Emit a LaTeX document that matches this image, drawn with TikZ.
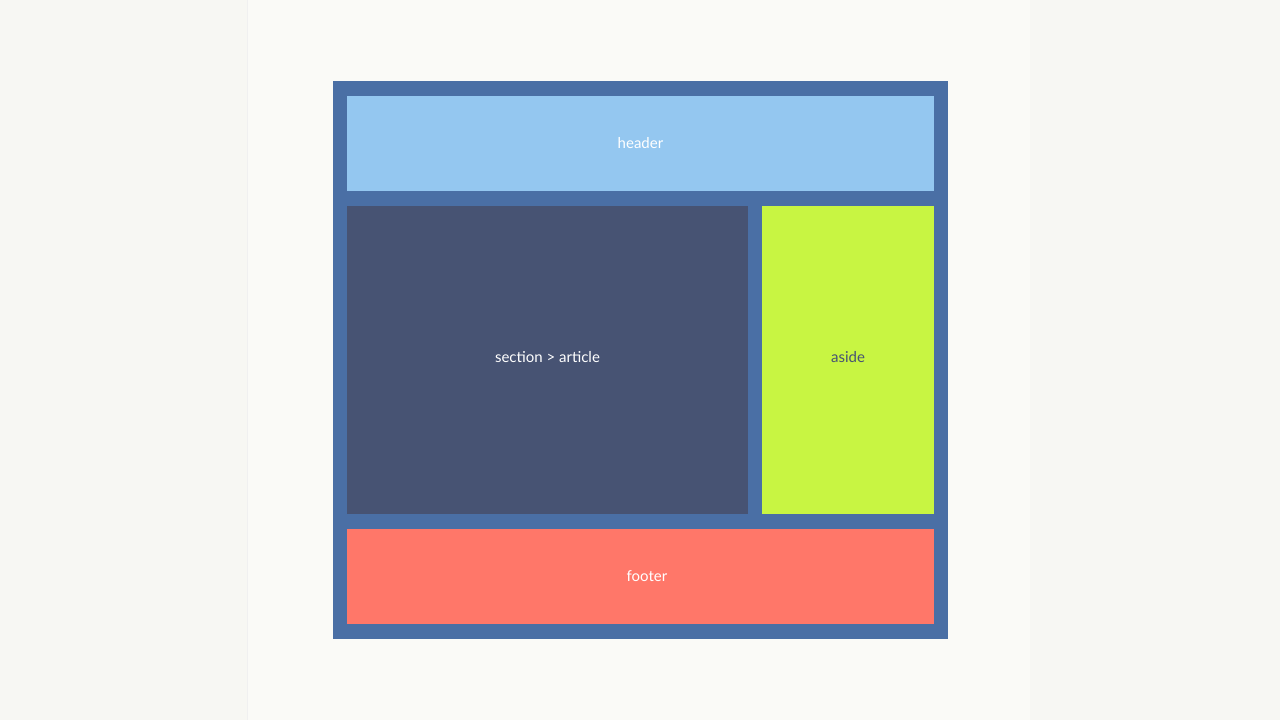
\documentclass[tikz,border=0pt]{standalone}
\usepackage{fontspec}
\setmainfont{Lato}
\definecolor{bg}{HTML}{F7F7F3}
\definecolor{frame}{HTML}{4A6FA5}
\definecolor{hdr}{HTML}{94C7F0}
\definecolor{sec}{HTML}{475373}
\definecolor{asd}{HTML}{C8F542}
\definecolor{ftr}{HTML}{FF7769}
\tikzset{lbl/.style={font=\fontsize{15}{18}\selectfont,text=white}}
\begin{document}
\begin{tikzpicture}[x=1pt,y=-1pt]
\useasboundingbox (0,0) rectangle (1280,720);
\fill[bg] (0,0) rectangle (1280,720);
\fill[white,opacity=0.4] (247,0) rectangle (1030,720);
\draw[black!6] (247,0) -- (247,720);
\fill[frame] (333,81) rectangle (948,639);
\fill[hdr] (347,96) rectangle (934,191);
\fill[sec] (347,206) rectangle (748,514);
\fill[asd] (762,206) rectangle (934,514);
\fill[ftr] (347,529) rectangle (934,624);
\node[lbl] (h) at (640.5,143.5) {header};
\node[lbl] (s) at (547.5,357) {section > article};
\node[lbl,text=sec] (a) at (848,357) {aside};
\node[lbl] (f) at (647,576.5) {footer};
\end{tikzpicture}
\end{document}
